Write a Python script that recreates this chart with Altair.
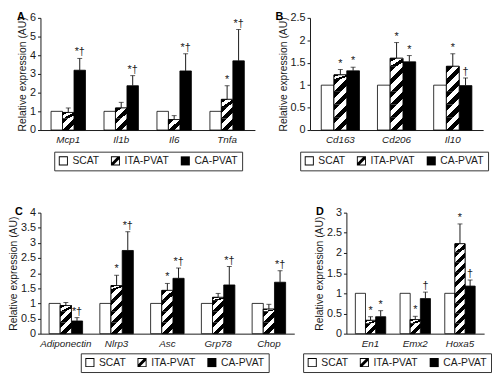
import altair as alt
import pandas as pd

GROUPS = ["SCAT", "ITA-PVAT", "CA-PVAT"]

# ---- Panel A ----
a_genes = ["Mcp1", "Il1b", "Il6", "Tnfa"]
a_scat = [1.0, 1.0, 1.0, 1.0]
a_ita = [0.94, 1.18, 0.56, 1.64]
a_ita_up = [1.18, 1.48, 0.77, 2.37]
a_ca = [3.2, 2.37, 3.16, 3.7]
a_ca_up = [3.83, 2.91, 4.08, 5.38]
a_ita_sig = ["", "", "", "*"]
a_ca_sig = ["*†", "*†", "*†", "*†"]

# ---- Panel B ----
b_genes = ["Cd163", "Cd206", "Il10"]
b_scat = [1.0, 1.0, 1.0]
b_ita = [1.23, 1.6, 1.42]
b_ita_up = [1.35, 1.95, 1.7]
b_ca = [1.32, 1.52, 0.99]
b_ca_up = [1.4, 1.66, 1.16]
b_ita_sig = ["*", "*", "*"]
b_ca_sig = ["*", "*", "†"]

# ---- Panel C ----
c_genes = ["Adiponectin", "Nlrp3", "Asc", "Grp78", "Chop"]
c_scat = [1.0, 1.0, 1.0, 1.0, 1.0]
c_ita = [0.93, 1.59, 1.43, 1.2, 0.81]
c_ita_up = [1.03, 1.93, 1.66, 1.33, 0.97]
c_ca = [0.42, 2.75, 1.83, 1.61, 1.7]
c_ca_up = [0.53, 3.37, 2.17, 2.22, 2.08]
c_ita_sig = ["", "*", "*", "", ""]
c_ca_sig = ["*†", "*†", "*†", "*†", "*†"]

# ---- Panel D ----
d_genes = ["En1", "Emx2", "Hoxa5"]
d_scat = [1.0, 1.0, 1.0]
d_ita = [0.33, 0.35, 2.23]
d_ita_up = [0.42, 0.43, 2.72]
d_ca = [0.42, 0.87, 1.18]
d_ca_up = [0.57, 1.03, 1.33]
d_ita_sig = ["*", "*", "*"]
d_ca_sig = ["*", "†", "†"]

FONT = "Liberation Sans"
INK = "#1a1a1a"

stops = []
for k in range(2):
    o = k * 0.5
    stops += [
        {"offset": o, "color": "black"},
        {"offset": o + 0.25, "color": "black"},
        {"offset": o + 0.25, "color": "white"},
        {"offset": o + 0.5, "color": "white"},
    ]
HATCH = {"gradient": "linear", "x1": 0, "y1": 0, "x2": 1, "y2": 1, "stops": stops}

# legend glyphs, all filled black: hollow frame, frame + diagonal band, solid square
FRAME = "M-1,-1L1,-1L1,1L-1,1ZM-0.8,-0.8L-0.8,0.8L0.8,0.8L0.8,-0.8Z"
HATCH_PATH = FRAME + "M-1,0.55L0.55,-1L1,-1L1,-0.55L-0.55,1L-1,1Z"
SOLID = "M-1,-1L1,-1L1,1L-1,1Z"


def panel(letter, genes, scat, ita, ita_up, ca, ca_up, ita_sig, ca_sig,
          ymax, ystep, width, height, pad_in, pad_out, letter_x, legend_x, legend_y):
    rows = []
    for i, g in enumerate(genes):
        rows.append({"gene": g, "group": GROUPS[0], "value": scat[i], "upper": None, "sig": ""})
        rows.append({"gene": g, "group": GROUPS[1], "value": ita[i], "upper": ita_up[i], "sig": ita_sig[i]})
        rows.append({"gene": g, "group": GROUPS[2], "value": ca[i], "upper": ca_up[i], "sig": ca_sig[i]})
    df = pd.DataFrame(rows)

    n = len(genes)
    step = width / (n - pad_in + 2 * pad_out)
    bar_w = step * (1 - pad_in) / 3
    piece = bar_w / (height / ymax)
    pieces = []
    for i, g in enumerate(genes):
        lo = 0.0
        while lo < ita[i] - 1e-6:
            hi = min(lo + piece, ita[i])
            pieces.append({"gene": g, "group": GROUPS[1], "lo": lo, "hi": hi})
            lo += piece
    pdf = pd.DataFrame(pieces)

    nt = int(round(ymax / ystep))
    tick_vals = [round(k * ystep, 2) for k in range(nt + 1)]

    x = alt.X("gene:N", sort=genes, title=None,
              scale=alt.Scale(paddingInner=pad_in, paddingOuter=pad_out),
              axis=alt.Axis(labelAngle=0, ticks=False, labelFontStyle="italic",
                            labelFontSize=10, labelPadding=5, domainColor=INK,
                            labelColor=INK))
    xo = alt.XOffset("group:N", sort=GROUPS,
                     scale=alt.Scale(domain=GROUPS, paddingInner=0, paddingOuter=0))
    yscale = alt.Scale(domain=[0, ymax], nice=False, zero=True)
    yaxis = alt.Axis(title="Relative expression (AU)", values=tick_vals, grid=False,
                     tickSize=3, labelPadding=2, titlePadding=2, labelFontSize=11,
                     titleFontSize=10.5, titleFontWeight="normal", labelExpr="'' + datum.value",
                     domainColor=INK, tickColor=INK, labelColor=INK, titleColor=INK)

    def Y(field):
        return alt.Y(field, scale=yscale, axis=yaxis)

    bars = alt.Chart(df).mark_bar(stroke="black", strokeWidth=0.8).encode(
        x=x, xOffset=xo, y=Y("value:Q"),
        fill=alt.Fill("group:N", scale=alt.Scale(domain=GROUPS, range=["white", "white", "black"]),
                      legend=None))
    hatch = alt.Chart(pdf).mark_bar(fill=HATCH).encode(
        x=x, xOffset=xo, y=Y("lo:Q"), y2="hi:Q")
    outline = alt.Chart(df).transform_filter(alt.datum.group == GROUPS[1]).mark_bar(
        fillOpacity=0, stroke="black", strokeWidth=0.8).encode(x=x, xOffset=xo, y=Y("value:Q"))
    err = alt.Chart(df).transform_filter("isValid(datum.upper)").mark_rule(
        color=INK, strokeWidth=1).encode(x=x, xOffset=xo, y=Y("value:Q"), y2="upper:Q")
    cap = alt.Chart(df).transform_filter("isValid(datum.upper)").mark_tick(
        color=INK, thickness=1, size=5).encode(x=x, xOffset=xo, y=Y("upper:Q"))
    sig = alt.Chart(df).transform_filter("datum.sig != ''").mark_text(
        baseline="bottom", dy=-1, fontSize=11, color=INK).encode(
        x=x, xOffset=xo, y=Y("upper:Q"), text="sig:N")

    leg_def = alt.Legend(title=None, orient="none", legendX=legend_x, legendY=legend_y,
                         direction="horizontal", strokeColor="#333", padding=4,
                         symbolSize=85, symbolFillColor="black", symbolStrokeColor="black",
                         symbolStrokeWidth=0.4, symbolOpacity=1, labelFontSize=10.5,
                         labelColor=INK, columnPadding=10, labelOffset=4)
    leg_df = pd.DataFrame({"group": GROUPS})
    leg = alt.Chart(leg_df).mark_point(filled=True, opacity=0, color="black").encode(
        shape=alt.Shape("group:N", sort=GROUPS,
                        scale=alt.Scale(domain=GROUPS, range=[FRAME, HATCH_PATH, SOLID]),
                        legend=leg_def))

    let = alt.Chart(alt.InlineData(values=[{"t": letter}])).mark_text(
        fontWeight="bold", fontSize=11, color="black", align="center", baseline="middle").encode(
        text="t:N", x=alt.value(letter_x), y=alt.value(-1))

    return alt.layer(bars, hatch, outline, err, cap, sig, leg, let).resolve_scale(
        fill="independent").properties(width=width, height=height)


A = panel("A", a_genes, a_scat, a_ita, a_ita_up, a_ca, a_ca_up, a_ita_sig, a_ca_sig,
          6, 1, 218, 114, 0.35, 0.2, -20, 14, 136)
B = panel("B", b_genes, b_scat, b_ita, b_ita_up, b_ca, b_ca_up, b_ita_sig, b_ca_sig,
          2.5, 0.5, 176, 114, 0.32, 0.2, -31, -10, 136)
C = panel("C", c_genes, c_scat, c_ita, c_ita_up, c_ca, c_ca_up, c_ita_sig, c_ca_sig,
          4, 0.5, 258, 123, 0.34, 0.17, -22, 41, 143)
D = panel("D", d_genes, d_scat, d_ita, d_ita_up, d_ca, d_ca_up, d_ita_sig, d_ca_sig,
          3, 0.5, 140, 123, 0.32, 0.2, -27, -44, 143)

row1 = alt.hconcat(A, B, spacing=21).resolve_scale(fill="independent", shape="independent",
                                                    xOffset="independent")
row2 = alt.hconcat(C, D, spacing=8).resolve_scale(fill="independent", shape="independent",
                                                   xOffset="independent")
chart = alt.vconcat(row1, row2, spacing=35).resolve_scale(
    fill="independent", shape="independent", xOffset="independent").properties(
    padding={"left": 0, "top": 0, "right": 0, "bottom": 0}).configure(
    font=FONT).configure_view(stroke=None)

chart.save("out.html", embed_options={"renderer": "svg", "actions": False})
